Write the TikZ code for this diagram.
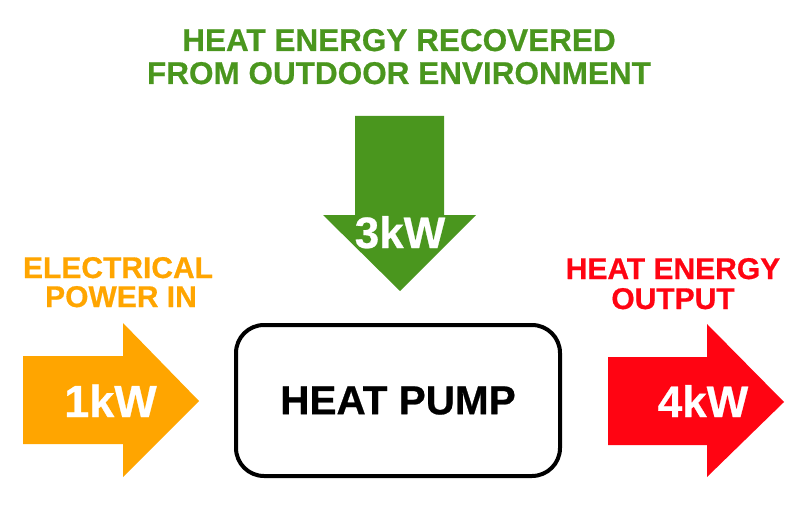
\documentclass[tikz,border=0pt]{standalone}
\usepackage{fontspec}
\setmainfont{Liberation Sans}
\newfontfamily\heavyfont[FakeBold=0.6]{Liberation Sans Bold}
\definecolor{grn}{RGB}{74,150,30}
\definecolor{org}{RGB}{255,165,0}
\definecolor{rd}{RGB}{255,4,18}
\begin{document}
\begin{tikzpicture}[x=1pt,y=-1pt,
  lbl/.style={inner sep=0pt, anchor=base, font=\heavyfont\fontsize{#1}{#1}\selectfont},
  hpbox/.style={draw=black, line width=4pt, rounded corners=28pt, minimum width=324pt, minimum height=151pt, inner sep=0pt, font=\heavyfont\fontsize{40.5}{40.5}\selectfont}]
\useasboundingbox (0,0) rectangle (800,524);
% arrows
\fill[grn] (355,116) -- (444,116) -- (444,215) -- (476,215) -- (400,291) -- (323,215) -- (355,215) -- cycle;
\fill[org] (23,356) -- (123,356) -- (123,323) -- (199,401) -- (123,477) -- (123,444) -- (23,444) -- cycle;
\fill[rd] (608,357) -- (707,357) -- (707,324) -- (784,402) -- (707,477) -- (707,445) -- (608,445) -- cycle;
% box
\node[hpbox] (hp) at (398,400.5) {HEAT PUMP};
% titles
\node[lbl=31.5, text=grn] (t1) at (399,51) {HEAT ENERGY RECOVERED};
\node[lbl=31.5, text=grn] (t2) at (399,84) {FROM OUTDOOR ENVIRONMENT};
\node[lbl=30, text=org] (e1) at (118,278) {ELECTRICAL};
\node[lbl=30, text=org] (e2) at (121,307) {POWER IN};
\node[lbl=30, text=rd] (h1) at (673,279) {HEAT ENERGY};
\node[lbl=30, text=rd] (h2) at (673,309) {OUTPUT};
% values
\node[lbl=44, text=white] (v3) at (400,248) {3kW};
\node[lbl=45, text=white] (v1) at (110.5,417) {1kW};
\node[lbl=44, text=white] (v4) at (703,417) {4kW};
\end{tikzpicture}
\end{document}
